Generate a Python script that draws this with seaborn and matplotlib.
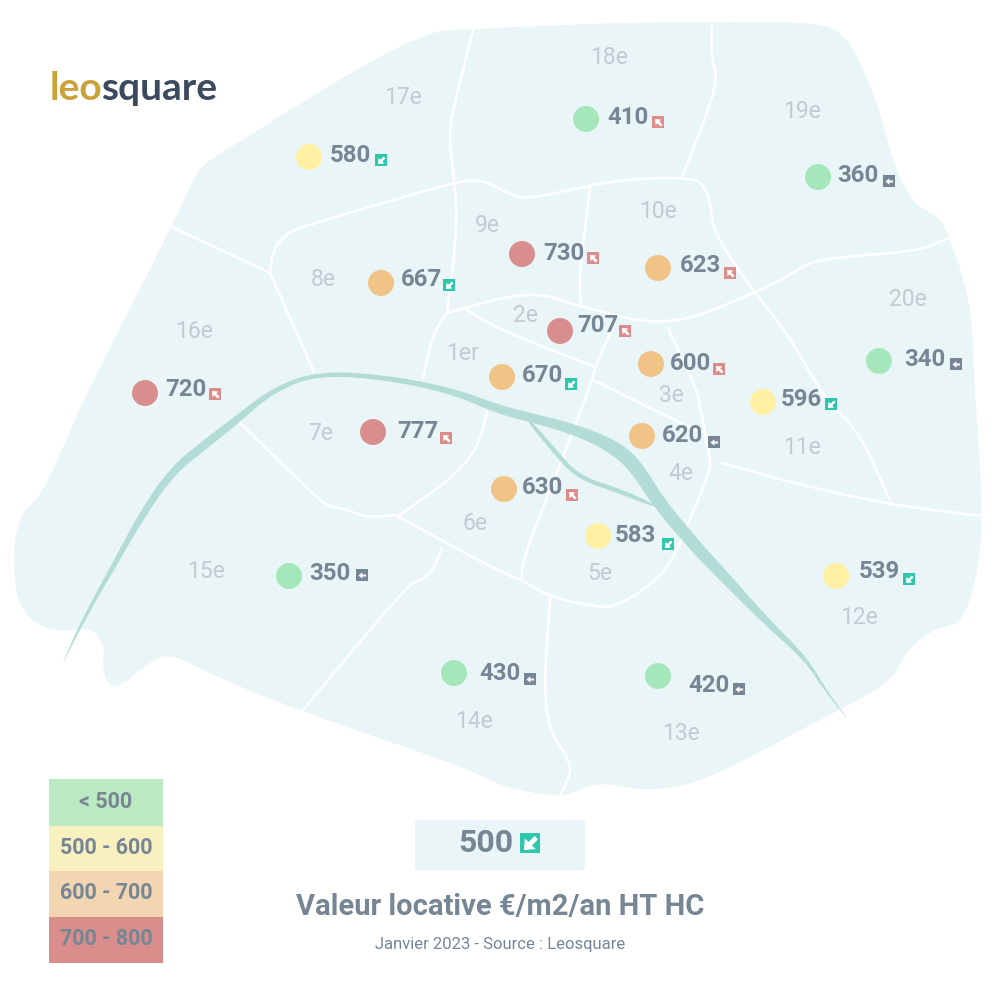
import numpy as np
import pandas as pd
import seaborn as sns
import matplotlib.pyplot as plt
from matplotlib.path import Path
from matplotlib.patches import PathPatch, Rectangle, FancyBboxPatch

# Map geometry, in picture coordinates
OUTLINE = [(417, 32), (475, 29), (540, 26), (610, 23), (712, 22), (822, 22), (848, 38), (867, 77), (880, 113),
           (888, 143), (900, 180), (917, 207), (938, 215), (950, 238), (963, 277), (972, 317), (974, 380),
           (980, 463), (982, 517), (980, 553), (973, 593), (960, 623), (947, 626), (927, 633), (905, 653),
           (897, 673), (877, 690), (833, 713), (707, 780), (670, 788), (640, 790), (599, 782), (575, 792), (560, 797),
           (504, 788), (467, 768), (302, 712), (207, 673), (167, 651), (140, 670), (120, 687), (107, 685),
           (102, 663), (105, 647), (97, 633), (85, 628), (60, 632), (37, 625), (20, 607), (14, 580), (14, 540),
           (22, 512), (35, 502), (50, 477), (72, 427), (93, 380), (172, 227), (197, 170), (217, 155)]

BORDERS = [
    [(172, 227), (270, 273)],
    [(270, 273), (273, 250), (285, 235), (300, 227), (455, 182), (475, 180), (490, 183), (510, 195), (530, 199),
     (590, 185), (640, 178), (690, 178), (702, 183), (710, 200), (714, 235), (755, 293), (787, 333), (820, 390),
     (833, 407), (860, 433), (892, 505)],
    [(473, 30), (458, 90), (448, 133), (455, 183), (457, 233), (447, 313)],
    [(712, 23), (711, 57), (719, 83), (682, 177)],
    [(590, 187), (586, 220), (579, 277), (581, 307)],
    [(447, 313), (530, 290), (581, 307), (668, 328), (755, 293), (790, 275), (817, 258), (917, 252), (948, 238)],
    [(447, 313), (433, 333), (423, 378)],
    [(270, 273), (314, 372)],
    [(467, 310), (500, 330), (595, 367)],
    [(613, 327), (595, 367), (592, 380), (570, 440), (543, 507), (522, 563), (522, 580)],
    [(592, 380), (600, 383), (680, 423), (703, 432)],
    [(668, 328), (697, 390), (700, 407), (710, 457), (710, 472), (688, 523), (670, 567), (640, 593), (613, 607),
     (597, 607), (550, 597), (522, 580), (500, 572), (397, 516)],
    [(550, 597), (542, 720), (572, 763), (568, 780), (560, 795)],
    [(487, 412), (477, 450), (450, 480), (398, 516)],
    [(240, 423), (307, 488), (328, 507), (343, 508), (367, 518), (395, 515)],
    [(442, 548), (433, 570), (420, 582), (410, 582), (303, 710)],
    [(722, 463), (800, 485), (892, 505), (982, 516)],
]

SEINE = [(63, 663), (83, 620), (117, 560), (143, 513), (173, 470), (207, 443), (240, 417), (273, 390), (317, 373),
         (383, 377), (450, 390), (500, 410), (533, 418), (583, 432), (623, 452), (643, 477), (657, 500), (687, 537),
         (727, 580), (767, 622), (807, 660), (825, 690), (847, 718)]
SEINE_WIDTH = [0.5, 3, 5, 7, 8, 9, 7, 5, 4, 5, 6, 9, 9, 11, 15, 14, 13, 13, 11, 7, 4, 2, 0.5]
SEINE_ARM = [(528, 420), (552, 448), (577, 477), (617, 490), (655, 506)]
SEINE_ARM_WIDTH = [3, 5, 4, 5, 3]

# Arrondissement names
ARR_NAMES = ["17e", "18e", "19e", "10e", "9e", "8e", "20e", "16e", "2e", "1er", "3e", "7e", "11e", "4e", "6e",
             "15e", "5e", "12e", "14e", "13e"]
ARR_X = [403, 609, 802, 658, 487, 323, 908, 194, 525, 462, 671, 321, 802, 681, 475, 206, 600, 859, 474, 681]
ARR_Y = [98, 57, 111, 212, 226, 279, 299, 332, 316, 353, 395, 434, 447, 474, 523, 572, 573, 617, 721, 734]

# Rental values
VALUES = [580, 410, 360, 667, 730, 623, 707, 600, 340, 720, 670, 596, 777, 620, 630, 583, 539, 350, 430, 420]
TRENDS = ["down", "up", "flat", "down", "up", "up", "up", "up", "flat", "up", "down", "down", "up", "flat", "up",
          "down", "down", "flat", "flat", "flat"]
DOT_X = [309, 586, 818, 381, 522, 658, 560, 651, 879, 145, 502, 763, 373, 642, 504, 598, 836, 289, 454, 658]
DOT_Y = [157, 119, 177, 283, 254, 268, 331, 364, 361, 393, 377, 402, 432, 436, 489, 536, 576, 576, 673, 676]
VALUE_X = [330, 607, 837, 401, 543, 680, 577, 670, 904, 165, 522, 781, 397, 662, 522, 615, 859, 309, 479, 688]
VALUE_Y = [155, 118, 176, 279, 254, 266, 326, 363, 359, 389, 375, 399, 432, 436, 488, 536, 572, 573, 674, 685]
BADGE_X = [381, 658, 889, 449, 593, 730, 625, 719, 956, 215, 571, 831, 446, 714, 572, 668, 909, 362, 530, 739]
BADGE_Y = [160, 122, 181, 285, 258, 273, 331, 369, 364, 394, 384, 404, 438, 442, 495, 544, 579, 575, 679, 689]

BAND_LABELS = ["< 500", "500 - 600", "600 - 700", "700 - 800"]
BAND_EDGES = [0, 500, 600, 700, 800]
BAND_DOT_COLORS = ["#a5e7bb", "#fff0a4", "#f0c486", "#d98e8e"]
BAND_BOX_COLORS = ["#bbe9c1", "#f9f0c0", "#f2d6b2", "#d98e8c"]
LEGEND_TOPS = [779, 826, 871, 917]
LEGEND_BOTTOMS = [826, 871, 917, 963]

TREND_COLORS = {"down": "#2ec7ab", "up": "#dc8c8a", "flat": "#768695"}
ARROW = np.array([(-0.55, -0.16), (0.02, -0.16), (0.02, -0.5), (0.62, 0), (0.02, 0.5), (0.02, 0.16), (-0.55, 0.16),
                  (-0.55, -0.16)])
ROTATIONS = {"down": 45, "up": -45, "flat": 0}

LAND = "#e9f5f6"
RIVER = "#b4dcd6"
TEXT = "#768695"
LABEL = "#c0cbd3"


def curve_path(points, closed=False):
    """Quadratic path through the midpoints, keeps the ends of open lines."""
    p = np.array(points, dtype=float)
    if closed:
        verts = [(p[-1] + p[0]) / 2]
        codes = [Path.MOVETO]
        for i in range(len(p)):
            verts += [p[i], (p[i] + p[(i + 1) % len(p)]) / 2]
            codes += [Path.CURVE3, Path.CURVE3]
        return Path(verts, codes)
    verts = [p[0], (p[0] + p[1]) / 2]
    codes = [Path.MOVETO, Path.LINETO]
    for i in range(1, len(p) - 1):
        verts += [p[i], (p[i] + p[i + 1]) / 2]
        codes += [Path.CURVE3, Path.CURVE3]
    verts.append(p[-1])
    codes.append(Path.LINETO)
    return Path(verts, codes)


def ribbon(center, widths):
    """Closed outline of a line with a varying width."""
    c = np.array(center, dtype=float)
    w = np.array(widths, dtype=float)[:, None] / 2
    d = np.gradient(c, axis=0)
    n = np.column_stack([-d[:, 1], d[:, 0]]) / np.linalg.norm(d, axis=1, keepdims=True)
    return np.vstack([c + n * w, (c - n * w)[::-1]])


def arrow_marker(trend):
    a = np.radians(ROTATIONS[trend])
    rot = np.array([[np.cos(a), -np.sin(a)], [np.sin(a), np.cos(a)]])
    # y is inverted on this axes but markers are drawn in screen space
    return Path(ARROW @ rot.T * np.array([1, -1]) * -1 * np.array([-1, 1]) * -1, closed=True)


sns.set_theme(style="white")
plt.rcParams["font.family"] = ["Roboto", "DejaVu Sans"]

fig = plt.figure(figsize=(10, 10), dpi=100)
ax = fig.add_axes([0, 0, 1, 1])
ax.set_xlim(0, 1000)
ax.set_ylim(1000, 0)

ax.add_patch(PathPatch(curve_path(OUTLINE, closed=True), facecolor=LAND, edgecolor="none", zorder=1))
for line in BORDERS:
    ax.add_patch(PathPatch(curve_path(line), facecolor="none", edgecolor="white", lw=1.9, capstyle="round", zorder=2))
ax.add_patch(PathPatch(curve_path(ribbon(SEINE, SEINE_WIDTH), closed=True), facecolor=RIVER, edgecolor="none", zorder=3))
ax.add_patch(PathPatch(curve_path(ribbon(SEINE_ARM, SEINE_ARM_WIDTH), closed=True), facecolor=RIVER, edgecolor="none", zorder=3))

df = pd.DataFrame({"x": DOT_X, "y": DOT_Y, "value": VALUES, "trend": TRENDS, "bx": BADGE_X, "by": BADGE_Y})
df["band"] = pd.cut(df["value"], BAND_EDGES, labels=BAND_LABELS, right=False).astype(str)

sns.scatterplot(data=df, x="x", y="y", hue="band", hue_order=BAND_LABELS,
                palette=dict(zip(BAND_LABELS, BAND_DOT_COLORS)), s=350, linewidth=0, legend=False, ax=ax, zorder=4)
sns.scatterplot(data=df, x="bx", y="by", hue="trend", palette=TREND_COLORS, marker="s", s=85, linewidth=0,
                legend=False, ax=ax, zorder=5)
for trend in ROTATIONS:
    sub = df[df["trend"] == trend]
    sns.scatterplot(data=sub, x="bx", y="by", marker=arrow_marker(trend), color="white", s=34, linewidth=0,
                    legend=False, ax=ax, zorder=6)

for name, x, y in zip(ARR_NAMES, ARR_X, ARR_Y):
    ax.text(x, y, name, fontsize=16.5, color=LABEL, ha="center", va="center", zorder=4)
for value, x, y in zip(VALUES, VALUE_X, VALUE_Y):
    ax.text(x, y, str(value), fontsize=17.3, fontweight="bold", color=TEXT, ha="left", va="center", zorder=6)

# Legend
for label, color, top, bottom in zip(BAND_LABELS, BAND_BOX_COLORS, LEGEND_TOPS, LEGEND_BOTTOMS):
    ax.add_patch(Rectangle((49, top), 114, bottom - top, facecolor=color, edgecolor="none"))
    ax.text(106, (top + bottom) / 2 - 1, label, fontsize=15.5, fontweight="bold", color=TEXT, ha="center", va="center")

# Reference box
ax.add_patch(FancyBboxPatch((415, 820), 170, 50, boxstyle="round,pad=0,rounding_size=2", facecolor=LAND, edgecolor="none"))
ax.text(486, 843, "500", fontsize=23, fontweight="bold", color=TEXT, ha="center", va="center")
sns.scatterplot(x=[530], y=[843], marker="s", s=200, color=TREND_COLORS["down"], linewidth=0, legend=False, ax=ax, zorder=5)
sns.scatterplot(x=[530], y=[843], marker=arrow_marker("down"), s=120, color="white", linewidth=0, legend=False, ax=ax, zorder=6)

ax.text(500, 907, "Valeur locative €/m2/an HT HC", fontsize=21, fontweight="bold", color=TEXT, ha="center", va="center")
ax.text(500, 944, "Janvier 2023 - Source : Leosquare", fontsize=12, color=TEXT, ha="center", va="center")

# Logo
ax.text(50, 100, "leo", fontsize=28, fontfamily="Lato", fontweight="bold", color="#c9a23a", ha="left", va="baseline")
ax.text(101, 100, "square", fontsize=28, fontfamily="Lato", fontweight="bold", color="#3b4a5c", ha="left", va="baseline")

ax.set_xlim(0, 1000)
ax.set_ylim(1000, 0)
ax.set_axis_off()
fig.savefig("out.png", dpi=100, facecolor="white")
